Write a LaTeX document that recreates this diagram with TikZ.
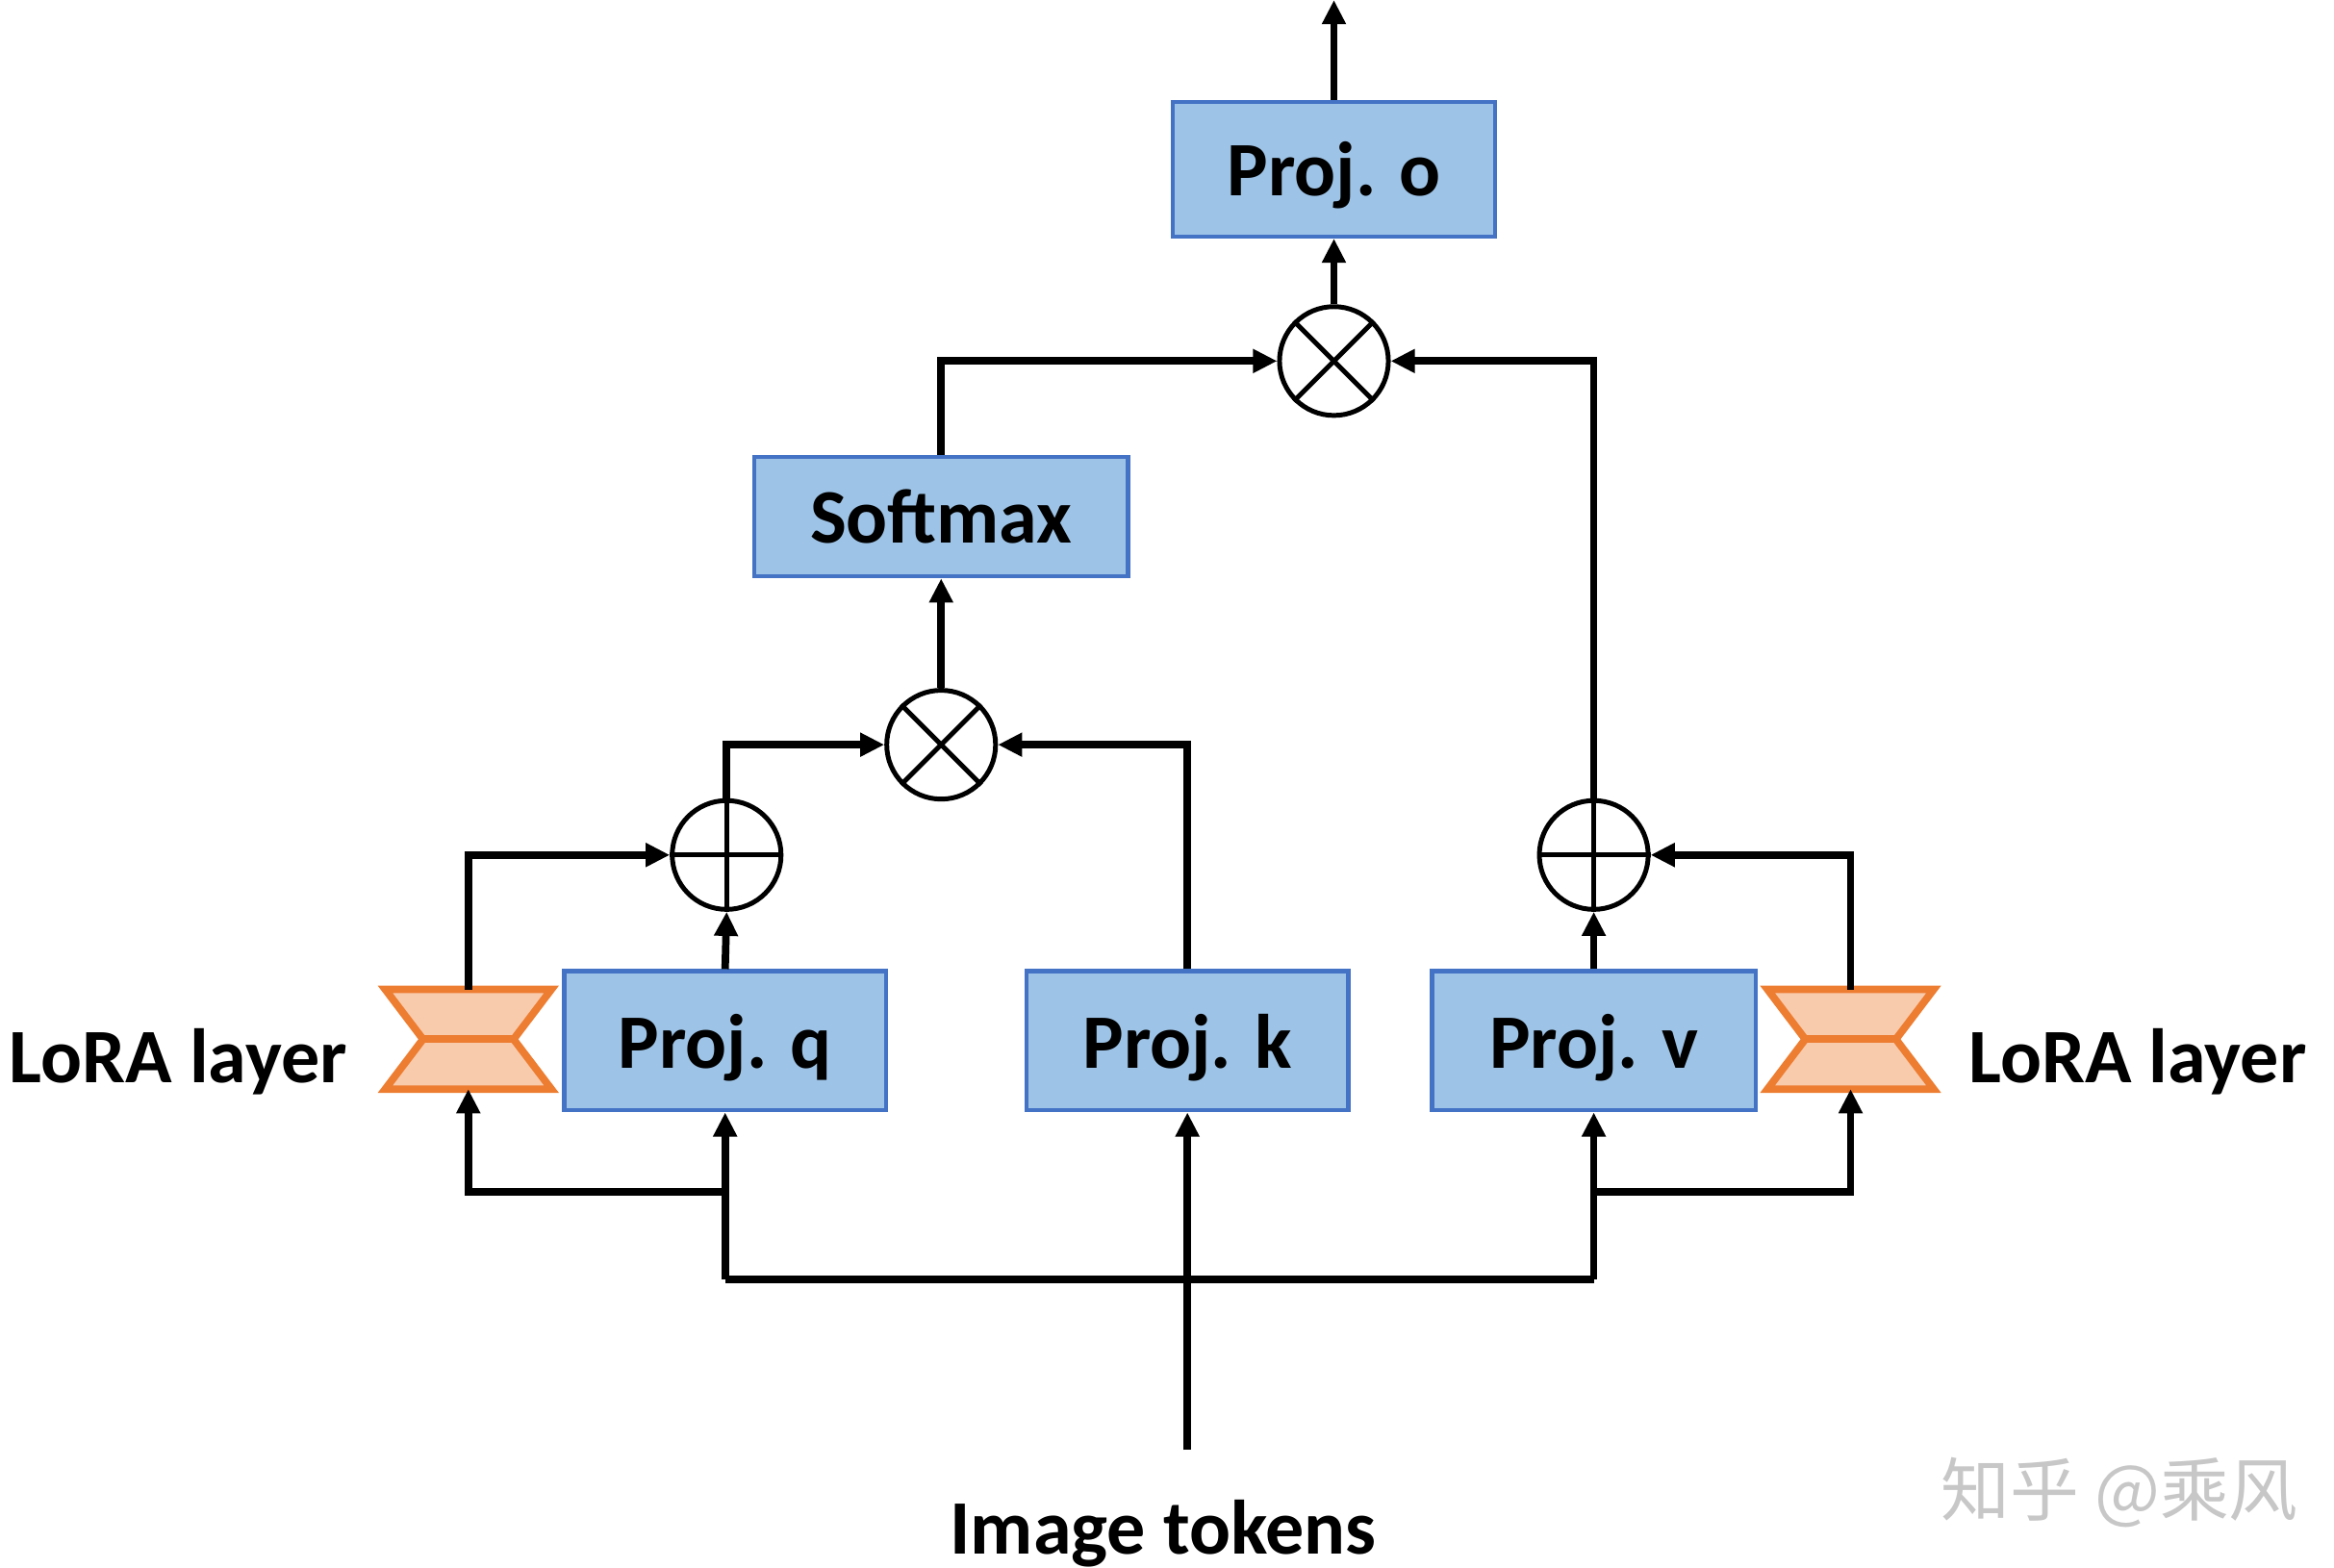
\documentclass[tikz,border=0pt]{standalone}
\usepackage{fontspec}
\setmainfont{Carlito}
\newfontfamily\cjk{Noto Sans CJK SC}
\usetikzlibrary{arrows.meta}
\begin{document}
\begin{tikzpicture}[x=0.01cm,y=-0.01cm,
  box/.style={draw={rgb,255:red,68;green,114;blue,196},line width=0.8pt,fill={rgb,255:red,157;green,195;blue,230},inner sep=0pt,text depth=0pt,font=\fontsize{14.5}{17}\selectfont\bfseries},
  op/.style={circle,draw,line width=0.9pt,minimum size=0.72cm,inner sep=0pt},
  lbl/.style={font=\fontsize{14.5}{17}\selectfont\bfseries},
  ln/.style={line width=1.4pt},
  ar/.style={ln,-{Triangle[length=0.16cm,width=0.15cm]}},
  lora/.style={draw={rgb,255:red,237;green,125;blue,49},fill={rgb,255:red,248;green,203;blue,173},line width=1.4pt,line join=miter}]
\useasboundingbox (0,0) rectangle (1545,1038);
\node[box,minimum width=2.13cm,minimum height=0.89cm] (po) at (883,112) {Proj. o};
\node[box,minimum width=2.47cm,minimum height=0.79cm] (sm) at (623,342) {Softmax};
\node[box,minimum width=2.13cm,minimum height=0.92cm] (pq) at (480,689) {Proj. q};
\node[box,minimum width=2.13cm,minimum height=0.92cm] (pk) at (786,689) {Proj. k};
\node[box,minimum width=2.14cm,minimum height=0.92cm] (pv) at (1055,689) {Proj. v};
\node[op] (mt) at (883,239) {};
\node[op] (mb) at (623,493) {};
\node[op] (al) at (481,566) {};
\node[op] (ar) at (1055,566) {};
\foreach \n in {mt,mb}{\draw[line width=0.9pt] (\n.north west)--(\n.south east) (\n.north east)--(\n.south west);}
\foreach \n in {al,ar}{\draw[line width=0.9pt] (\n.north)--(\n.south) (\n.east)--(\n.west);}
\foreach \c/\nm in {310/ll,1225/lr}{
  \draw[lora] (\c-55,655)--(\c+55,655)--(\c+30,688)--(\c+55,721)--(\c-55,721)--(\c-30,688)--cycle;
  \draw[lora] (\c-30,688)--(\c+30,688);
  \coordinate (\nm t) at (\c,655); \coordinate (\nm b) at (\c,721);}
\node[lbl] (l1) at (118,703) {LoRA layer};
\node[lbl] (l2) at (1415,703) {LoRA layer};
\node[lbl] (it) at (770,1015) {Image tokens};
\node[font=\cjk\fontsize{13}{16}\selectfont,text=black!22] (wm) at (1403,988) {知乎 @乘风};
\coordinate (top) at (883,0);
\coordinate (src) at (786,960);
\draw[ln] (480,847)--(1055,847);
\draw[ar] (src)--(pk.south);
\draw[ar] (480,847)--(pq.south);
\draw[ar] (1055,847)--(pv.south);
\draw[ar] (480,789)-|(llb);
\draw[ar] (1055,789)-|(lrb);
\draw[ar] (llt)|-(al.west);
\draw[ar] (lrt)|-(ar.east);
\draw[ar] (pq.north)--(al.south);
\draw[ar] (pv.north)--(ar.south);
\draw[ar] (al.north)|-(mb.west);
\draw[ar] (pk.north)|-(mb.east);
\draw[ar] (mb.north)--(sm.south);
\draw[ar] (sm.north)|-(mt.west);
\draw[ar] (ar.north)|-(mt.east);
\draw[ar] (mt.north)--(po.south);
\draw[ar] (po.north)--(top);
\end{tikzpicture}
\end{document}
